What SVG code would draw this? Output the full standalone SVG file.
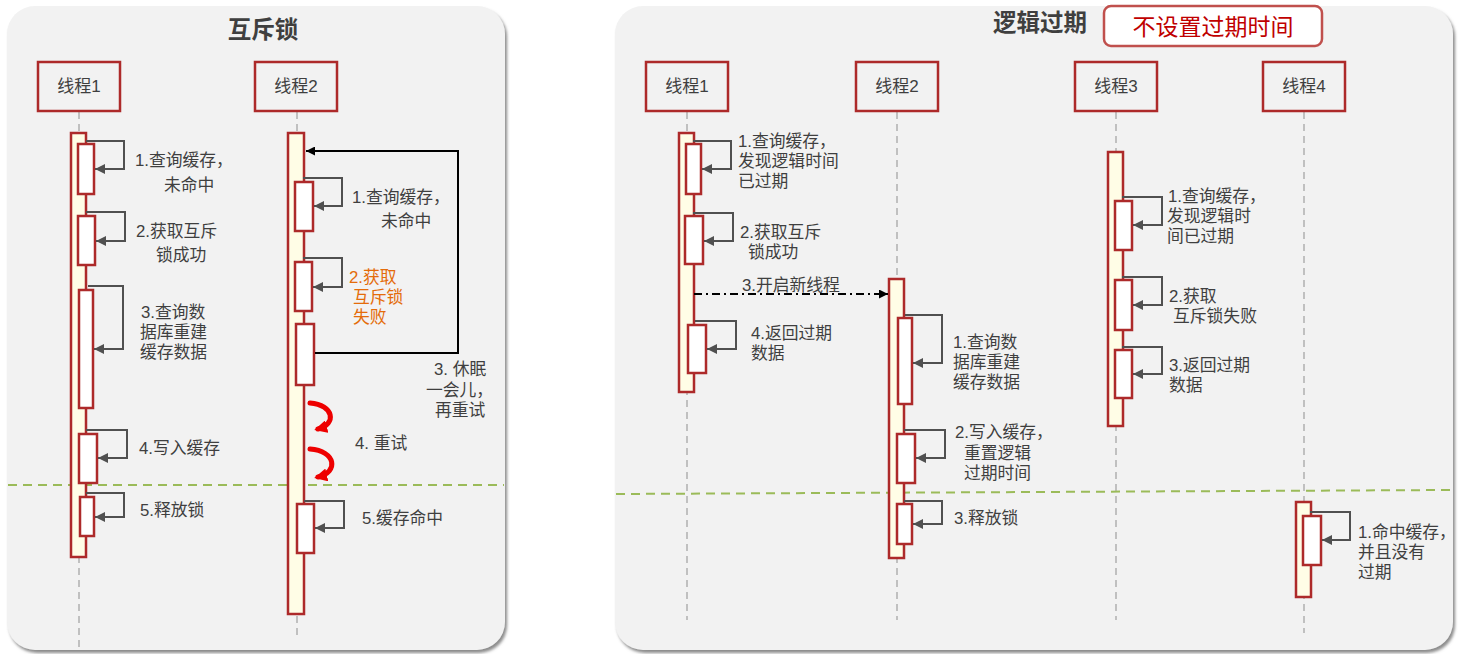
<svg xmlns="http://www.w3.org/2000/svg" width="1462" height="654" viewBox="0 0 1462 654">
<style>
text{font-family:"Liberation Sans","Noto Sans CJK SC",sans-serif;fill:#3f3f3f;font-size:16.8px}
.nt{font-size:17px;text-anchor:middle}
.title{font-size:23.5px;font-weight:bold;text-anchor:middle}
.head{fill:none;stroke:#ad2a2a;stroke-width:2.5}
.act{fill:#fffde6;stroke:#ad2a2a;stroke-width:2.5}
.sub{fill:#ffffff;stroke:#ad2a2a;stroke-width:2.5}
.life{stroke:#c0c0c0;stroke-width:2;stroke-dasharray:7,5;fill:none}
.self{fill:none;stroke:#505050;stroke-width:2;marker-end:url(#ag)}
.blk{fill:none;stroke:#000;stroke-width:2;marker-end:url(#ab)}
.dd{fill:none;stroke:#000;stroke-width:2;stroke-dasharray:8,4,2,4;marker-end:url(#ab)}
.red{fill:none;stroke:#ee0000;stroke-width:5;stroke-linecap:round;marker-end:url(#ar)}
.sep{stroke:#9bbb59;stroke-width:2;stroke-dasharray:9,6}
.orange{fill:#e46c0a}
</style>
<defs>
<filter id="sh" x="-5%" y="-5%" width="110%" height="110%">
<feDropShadow dx="2" dy="3" stdDeviation="1.5" flood-color="#7f7f7f" flood-opacity="0.9"/>
</filter>
<marker id="ag" viewBox="0 0 10 10" refX="10" refY="5" markerWidth="11" markerHeight="10" markerUnits="userSpaceOnUse" orient="auto"><path d="M0,0 L10,5 L0,10 z" fill="#505050"/></marker>
<marker id="ab" viewBox="0 0 10 10" refX="10" refY="5" markerWidth="10" markerHeight="9" markerUnits="userSpaceOnUse" orient="auto"><path d="M0,0 L10,5 L0,10 z" fill="#000"/></marker>
<marker id="ar" viewBox="0 0 10 10" refX="7" refY="5" markerWidth="13" markerHeight="13" markerUnits="userSpaceOnUse" orient="auto"><path d="M0,0 L10,5 L0,10 z" fill="#ee0000"/></marker>
</defs>

<!-- panels -->
<g id="panel-left">
<rect x="7" y="6" width="498" height="644" rx="28" fill="#f2f2f2" filter="url(#sh)"/>
<text class="title" x="263" y="38">互斥锁</text>
</g>
<g id="panel-right">
<rect x="615" y="6" width="838" height="644" rx="28" fill="#f2f2f2" filter="url(#sh)"/>
<text class="title" x="1040" y="31">逻辑过期</text>
<rect x="1104" y="6" width="218" height="40" rx="7" fill="#ffffff" stroke="#c0504d" stroke-width="2.5"/>
<text x="1213" y="35" style="font-size:23px;fill:#c00000;text-anchor:middle">不设置过期时间</text>
</g>

<!-- lifelines -->
<g id="lifelines">
<line class="life" x1="79" y1="112" x2="79" y2="652"/>
<line class="life" x1="297" y1="112" x2="297" y2="636"/>
<line class="life" x1="687" y1="112" x2="687" y2="620"/>
<line class="life" x1="897" y1="112" x2="897" y2="620"/>
<line class="life" x1="1116" y1="112" x2="1116" y2="620"/>
<line class="life" x1="1304" y1="112" x2="1304" y2="633"/>
</g>

<!-- separators -->
<g id="separators">
<line class="sep" x1="8" y1="485" x2="504" y2="485"/>
<line class="sep" x1="616" y1="494" x2="1452" y2="490"/>
</g>

<!-- Left: thread 1 -->
<g id="L-thread1">
<rect class="head" x="38" y="62" width="82" height="49"/>
<text class="nt" x="79" y="92">线程1</text>
<rect class="act" x="71" y="133" width="15" height="424"/>
<rect class="sub" x="78" y="144" width="16" height="50"/>
<rect class="sub" x="78" y="216" width="17" height="49"/>
<rect class="sub" x="79" y="290" width="14" height="118"/>
<rect class="sub" x="79" y="434" width="18" height="49"/>
<rect class="sub" x="80" y="497" width="14" height="39"/>
</g>

<!-- Left: thread 2 -->
<g id="L-thread2">
<rect class="head" x="255" y="62" width="82" height="49"/>
<text class="nt" x="296" y="92">线程2</text>
<rect class="act" x="288" y="133" width="16" height="481"/>
<rect class="sub" x="295" y="182" width="18" height="49"/>
<rect class="sub" x="295" y="262" width="17" height="49"/>
<rect class="sub" x="296" y="324" width="18" height="61"/>
<rect class="sub" x="297" y="504" width="17" height="49"/>
</g>

<!-- Right: thread 1 -->
<g id="R-thread1">
<rect class="head" x="646" y="62" width="82" height="49"/>
<text class="nt" x="687" y="92">线程1</text>
<rect class="act" x="679" y="133" width="15" height="259"/>
<rect class="sub" x="686" y="144" width="15" height="50"/>
<rect class="sub" x="685" y="216" width="18" height="48"/>
<rect class="sub" x="688" y="325" width="18" height="48"/>
</g>

<!-- Right: thread 2 -->
<g id="R-thread2">
<rect class="head" x="856" y="62" width="82" height="49"/>
<text class="nt" x="897" y="92">线程2</text>
<rect class="act" x="889" y="279" width="15" height="279"/>
<rect class="sub" x="898" y="318" width="14" height="86"/>
<rect class="sub" x="897" y="434" width="18" height="49"/>
<rect class="sub" x="897" y="504" width="15" height="40"/>
</g>

<!-- Right: thread 3 -->
<g id="R-thread3">
<rect class="head" x="1075" y="62" width="82" height="49"/>
<text class="nt" x="1116" y="92">线程3</text>
<rect class="act" x="1108" y="152" width="15" height="274"/>
<rect class="sub" x="1115" y="201" width="17" height="49"/>
<rect class="sub" x="1115" y="280" width="17" height="50"/>
<rect class="sub" x="1115" y="350" width="17" height="48"/>
</g>

<!-- Right: thread 4 -->
<g id="R-thread4">
<rect class="head" x="1263" y="62" width="82" height="49"/>
<text class="nt" x="1304" y="92">线程4</text>
<rect class="act" x="1296" y="502" width="15" height="95"/>
<rect class="sub" x="1303" y="516" width="18" height="49"/>
</g>

<!-- connectors -->
<g id="connectors">
<path class="self" d="M86,141 H124 V169 H95"/>
<path class="self" d="M86,212 H125 V241 H96"/>
<path class="self" d="M88,286 H123 V349 H94"/>
<path class="self" d="M86,430 H127 V458 H98"/>
<path class="self" d="M86,493 H124 V517 H95"/>

<path class="self" d="M303,178 H342 V206 H314"/>
<path class="self" d="M303,258 H342 V287 H313"/>
<path class="self" d="M304,501 H344 V528 H315"/>
<path class="blk" d="M315,353 H458 V151 H306"/>
<path class="red" d="M310,403 C334,405 337,424 318,429"/>
<path class="red" d="M310,449 C336,451 339,472 318,477"/>

<path class="self" d="M693,141 H731 V169 H702"/>
<path class="self" d="M693,213 H733 V241 H704"/>
<path class="self" d="M695,321 H736 V349 H707"/>
<path class="dd" d="M694,294 H888"/>

<path class="self" d="M905,315 H942 V363 H913"/>
<path class="self" d="M904,430 H945 V458 H916"/>
<path class="self" d="M904,501 H942 V524 H913"/>

<path class="self" d="M1122,197 H1162 V225 H1133"/>
<path class="self" d="M1122,277 H1162 V305 H1133"/>
<path class="self" d="M1122,347 H1162 V374 H1133"/>

<path class="self" d="M1310,512 H1350 V540 H1322"/>
</g>

<!-- labels -->
<g id="labels">
<text x="135" y="166">1.查询缓存，<tspan x="164" dy="25">未命中</tspan></text>
<text x="136" y="237">2.获取互斥<tspan x="156" dy="24">锁成功</tspan></text>
<text x="141" y="318">3.查询数<tspan x="140" dy="20">据库重建</tspan><tspan x="140" dy="20">缓存数据</tspan></text>
<text x="139" y="454">4.写入缓存</text>
<text x="140" y="516">5.释放锁</text>

<text x="352" y="203">1.查询缓存，<tspan x="381" dy="24">未命中</tspan></text>
<text class="orange" x="349" y="283">2.获取<tspan x="353" dy="20">互斥锁</tspan><tspan x="353" dy="20">失败</tspan></text>
<text x="434" y="375">3. 休眠<tspan x="426" dy="21">一会儿，</tspan><tspan x="435" dy="20">再重试</tspan></text>
<text x="355" y="449">4. 重试</text>
<text x="362" y="524">5.缓存命中</text>

<text x="738" y="147">1.查询缓存，<tspan x="738" dy="20">发现逻辑时间</tspan><tspan x="738" dy="20">已过期</tspan></text>
<text x="740" y="238">2.获取互斥<tspan x="748" dy="20">锁成功</tspan></text>
<text x="742" y="291">3.开启新线程</text>
<text x="751" y="339">4.返回过期<tspan x="751" dy="20">数据</tspan></text>

<text x="953" y="348">1.查询数<tspan x="953" dy="20">据库重建</tspan><tspan x="953" dy="20">缓存数据</tspan></text>
<text x="955" y="438">2.写入缓存，<tspan x="964" dy="21">重置逻辑</tspan><tspan x="964" dy="20">过期时间</tspan></text>
<text x="954" y="524">3.释放锁</text>

<text x="1168" y="202">1.查询缓存，<tspan x="1167" dy="20">发现逻辑时</tspan><tspan x="1167" dy="20">间已过期</tspan></text>
<text x="1169" y="302">2.获取<tspan x="1173" dy="20">互斥锁失败</tspan></text>
<text x="1169" y="371">3.返回过期<tspan x="1169" dy="20">数据</tspan></text>

<text x="1358" y="538">1.命中缓存，<tspan x="1358" dy="20">并且没有</tspan><tspan x="1358" dy="20">过期</tspan></text>
</g>
</svg>
